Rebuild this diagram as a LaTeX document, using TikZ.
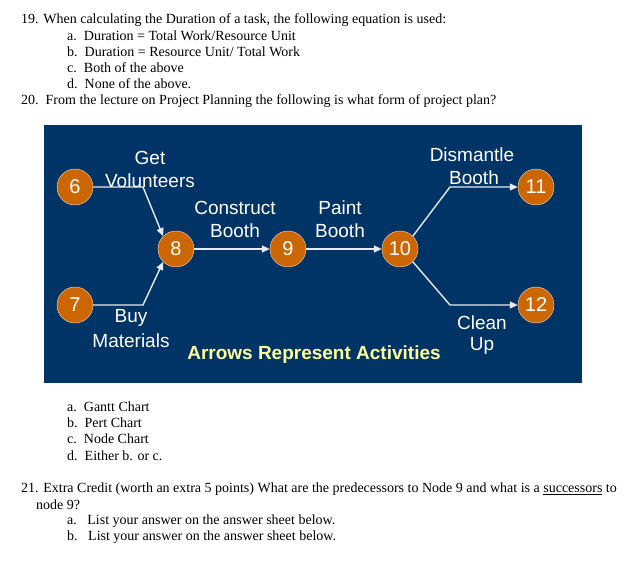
\documentclass[tikz,border=0pt]{standalone}
\usepackage{fontspec}
\setmainfont{Liberation Serif}
\newfontfamily\diagfont{Liberation Sans}
\usetikzlibrary{arrows.meta}
\definecolor{navy}{HTML}{003366}
\definecolor{burnt}{HTML}{CC6600}
\definecolor{paleyellow}{HTML}{FFFF99}
\tikzset{
  qline/.style={anchor=west,inner sep=0pt,font=\fontsize{14}{16}\selectfont},
  event/.style={circle,fill=burnt,draw=white!80!burnt,thin,minimum size=36pt,inner sep=0pt,
    text=white,font=\diagfont\fontsize{20}{20}\selectfont},
  act/.style={inner sep=0pt,text=white,font=\diagfont\fontsize{19}{19}\selectfont},
  flow/.style={draw=white!90!navy,line width=1.4pt,-{Triangle[length=8pt,width=7pt]}}
}
\begin{document}
\begin{tikzpicture}[x=1pt,y=-1pt]
\useasboundingbox (0,0) rectangle (638,562);
% questions
\node[qline] (q19) at (21,20) {19. When calculating the Duration of a task, the following equation is used:};
\node[qline] (q19a) at (67,36) {a.\ \ Duration = Total Work/Resource Unit};
\node[qline] (q19b) at (67,52) {b.\ \ Duration = Resource Unit/ Total Work};
\node[qline] (q19c) at (67,68) {c.\ \ Both of the above};
\node[qline] (q19d) at (67,84) {d.\ \ None of the above.};
\node[qline] (q20) at (21,101) {20.\ \ From the lecture on Project Planning the following is what form of project plan?};
% diagram
\fill[navy] (44,125) rectangle (582,383);
\node[event] (n6) at (75,187) {6};
\node[event] (n7) at (75,305) {7};
\node[event] (n8) at (176,249) {8};
\node[event] (n9) at (288,249) {9};
\node[event] (n10) at (400,249) {10};
\node[event] (n11) at (536,187) {11};
\node[event] (n12) at (536,305) {12};
\coordinate (k6) at (143,187);
\coordinate (k7) at (143,305);
\coordinate (k11) at (450,187);
\coordinate (k12) at (450,305);
\draw[flow] (n6.east) -- (k6) -- (n8.north west);
\draw[flow] (n7.east) -- (k7) -- (n8.south west);
\draw[flow] (n8) -- (n9);
\draw[flow] (n9) -- (n10);
\draw[flow] (n10.north east) -- (k11) -- (n11.west);
\draw[flow] (n10.south east) -- (k12) -- (n12.west);
\node[act] (lget) at (150,158) {Get};
\node[act] (lvol) at (150,181) {Volunteers};
\node[act] (lcon) at (235,208) {Construct};
\node[act] (lcb) at (235,231) {Booth};
\node[act] (lpai) at (340,208) {Paint};
\node[act] (lpb) at (340,231) {Booth};
\node[act] (ldis) at (472,155) {Dismantle};
\node[act] (ldb) at (474,178) {Booth};
\node[act] (lbuy) at (131,318) {Buy};
\node[act] (lmat) at (131,341) {Materials};
\node[act] (lcle) at (482,323) {Clean};
\node[act] (lup) at (482,346) {Up};
\node[act,text=paleyellow,font=\diagfont\bfseries\fontsize{19}{19}\selectfont] (ttl) at (314,355) {Arrows Represent Activities};
% answers
\node[qline] (q20a) at (67,407) {a.\ \ Gantt Chart};
\node[qline] (q20b) at (67,423) {b.\ \ Pert Chart};
\node[qline] (q20c) at (67,439) {c.\ \ Node Chart};
\node[qline] (q20d) at (67,456) {d.\ \ Either b. or c.};
\node[qline] (q21) at (21,489) {21. Extra Credit (worth an extra 5 points) What are the predecessors to Node 9 and what is a \underline{successors} to};
\node[qline] (q21n) at (36,505) {node 9?};
\node[qline] (q21a) at (67,521) {a.\ \ \ List your answer on the answer sheet below.};
\node[qline] (q21b) at (67,537) {b.\ \ \ List your answer on the answer sheet below.};
\end{tikzpicture}
\end{document}
